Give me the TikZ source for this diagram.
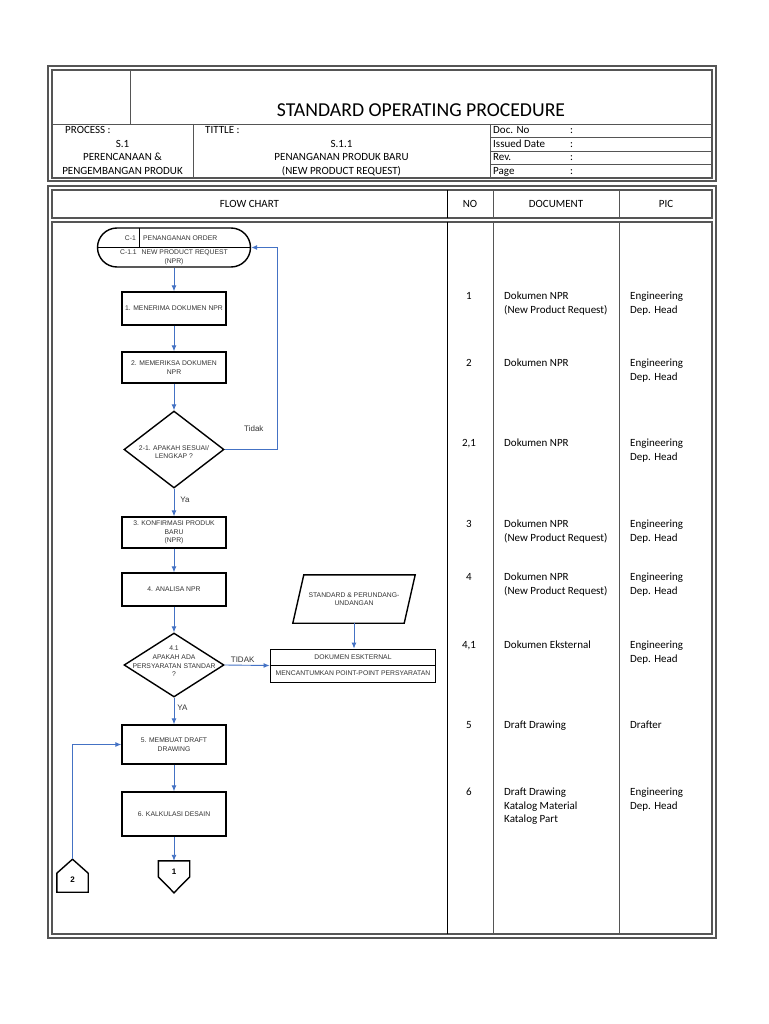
\documentclass[tikz,border=0pt]{standalone}
\usepackage{fontspec}
\setmainfont{Carlito}
\newfontfamily\flowfont{Liberation Sans}
\usetikzlibrary{arrows.meta,calc,positioning,shapes.geometric,shapes.misc}
\definecolor{flowblue}{RGB}{68,114,196}
\definecolor{framegray}{RGB}{85,85,85}

\begin{document}
\begin{tikzpicture}[x=1pt, y=-1pt, >={Latex[length=6pt,width=5pt]},
    frame/.style={draw=framegray, line width=1.1pt},
    cell/.style={draw=framegray, line width=0.7pt},
    formtext/.style={font=\fontsize{11}{13.3}\selectfont, inner sep=0pt, text height=8pt, text depth=1pt},
    coltext/.style={font=\fontsize{11}{13.3}\selectfont, inner sep=0pt, align=left, anchor=north west},
    flowtext/.style={inner sep=0pt, align=center, font=\flowfont\fontsize{6.8}{8.6}\selectfont, text=black!80},
    stepbox/.style={flowtext, draw, text=black!80, line width=1.4pt, minimum width=104pt, inner sep=1pt},
    decision/.style={diamond, draw, line width=1.4pt, minimum width=100pt, inner sep=0pt},
    answer/.style={inner sep=0pt, font=\flowfont\fontsize{8}{9}\selectfont, text=black!80},
    connector/.style={inner sep=0pt, minimum width=31pt, font=\flowfont\bfseries\fontsize{8}{9}\selectfont},
    flow/.style={->, draw=flowblue, line width=0.9pt}]

    \fill[white] (0,0) rectangle (768,1024);
    \useasboundingbox (0,0) rectangle (768,1024);

    % header block
    \draw[frame] (48,66) rectangle (716,181);
    \draw[frame] (52,70) rectangle (712,178);
    \draw[cell]  (130,70) -- (130,124);
    \draw[cell]  (52,124) -- (712,124);
    \draw[cell]  (193,124) -- (193,178);
    \draw[cell]  (490,124) -- (490,178);
    \draw[cell]  (490,137) -- (712,137)  (490,151) -- (712,151)  (490,164) -- (712,164);

    \node[font=\fontsize{19.7}{24}\selectfont, inner sep=0pt] (title) at (421,110) {STANDARD OPERATING PROCEDURE};

    \node[formtext, anchor=west] (process)   at (65,130.5)  {PROCESS :};
    \node[formtext]              (procno)    at (122.5,144) {S.1};
    \node[formtext]              (procname)  at (122.5,157.5) {PERENCANAAN \&};
    \node[formtext]              (procname2) at (122.5,171) {PENGEMBANGAN PRODUK};
    \node[formtext, anchor=west] (tittle)    at (205,130.5) {TITTLE :};
    \node[formtext]              (sopno)     at (341.5,144) {S.1.1};
    \node[formtext]              (sopname)   at (341.5,157.5) {PENANGANAN PRODUK BARU};
    \node[formtext]              (sopname2)  at (341.5,171) {(NEW PRODUCT REQUEST)};
    \node[formtext, anchor=west] (docno)     at (493,130.5) {Doc. No};
    \node[formtext, anchor=west] (issued)    at (493,144)   {Issued Date};
    \node[formtext, anchor=west] (rev)       at (493,157.5) {Rev.};
    \node[formtext, anchor=west] (page)      at (493,171)   {Page};
    \node[formtext, anchor=west] (docnoval)  at (570,130.5) {:};
    \node[formtext, anchor=west] (issuedval) at (570,144)   {:};
    \node[formtext, anchor=west] (revval)    at (570,157.5) {:};
    \node[formtext, anchor=west] (pageval)   at (570,171)   {:};

    % table block
    \draw[frame] (48,186) rectangle (716,938);
    \draw[frame] (52,190) rectangle (712,218);
    \draw[frame] (52,222) rectangle (712,934);
    \draw[line width=0.8pt] (447,190) -- (447,218)  (447,222) -- (447,934);
    \draw[cell] (493,190) -- (493,218)  (493,222) -- (493,934);
    \draw[cell] (619,190) -- (619,218)  (619,222) -- (619,934);

    \node[formtext] (hflow) at (249.5,204) {FLOW CHART};
    \node[formtext] (hno)   at (470,204)   {NO};
    \node[formtext] (hdoc)  at (556,204)   {DOCUMENT};
    \node[formtext] (hpic)  at (666,204)   {PIC};

    % table rows
    \node[coltext, anchor=north] (no1)  at (469,292) {1};
    \node[coltext] (doc1)  at (504,292) {Dokumen NPR\\(New Product Request)};
    \node[coltext] (pic1)  at (630,292) {Engineering\\Dep. Head};
    \node[coltext, anchor=north] (no2)  at (469,359) {2};
    \node[coltext] (doc2)  at (504,359) {Dokumen NPR};
    \node[coltext] (pic2)  at (630,359) {Engineering\\Dep. Head};
    \node[coltext, anchor=north] (no21) at (469,439) {2,1};
    \node[coltext] (doc21) at (504,439) {Dokumen NPR};
    \node[coltext] (pic21) at (630,439) {Engineering\\Dep. Head};
    \node[coltext, anchor=north] (no3)  at (469,520) {3};
    \node[coltext] (doc3)  at (504,520) {Dokumen NPR\\(New Product Request)};
    \node[coltext] (pic3)  at (630,520) {Engineering\\Dep. Head};
    \node[coltext, anchor=north] (no4)  at (469,573) {4};
    \node[coltext] (doc4)  at (504,573) {Dokumen NPR\\(New Product Request)};
    \node[coltext] (pic4)  at (630,573) {Engineering\\Dep. Head};
    \node[coltext, anchor=north] (no41) at (469,641) {4,1};
    \node[coltext] (doc41) at (504,641) {Dokumen Eksternal};
    \node[coltext] (pic41) at (630,641) {Engineering\\Dep. Head};
    \node[coltext, anchor=north] (no5)  at (469,721) {5};
    \node[coltext] (doc5)  at (504,721) {Draft Drawing};
    \node[coltext] (pic5)  at (630,721) {Drafter};
    \node[coltext, anchor=north] (no6)  at (469,788) {6};
    \node[coltext] (doc6)  at (504,788) {Draft Drawing\\Katalog Material\\Katalog Part};
    \node[coltext] (pic6)  at (630,788) {Engineering\\Dep. Head};

    % flow chart
    \node[rounded rectangle, draw, line width=1.4pt, minimum width=153pt, minimum height=39pt, inner sep=0pt] (order) at (174,247.5) {};
    \draw[line width=1pt] (order.west) -- (order.east);
    \coordinate (orderdiv) at (139,228);
    \draw[line width=1pt] (orderdiv) -- (orderdiv |- order.center);
    \node[flowtext, anchor=east] (ordercode) at (136,238)   {C-1};
    \node[flowtext, anchor=west] (ordername) at (143,238)   {PENANGANAN ORDER};
    \node[flowtext]              (nprname)   at (174,257.5) {C-1.1\hspace{5pt}NEW PRODUCT REQUEST\\(NPR)};

    \node[stepbox, minimum height=33pt] (receive) at (174,308.5) {1. MENERIMA DOKUMEN NPR};
    \node[stepbox, minimum height=31pt] (check)   at (174,367.5) {2. MEMERIKSA DOKUMEN\\NPR};
    \node[decision, minimum height=77pt] (complete) at (174,449.5) {};
    \node[flowtext] (completetext) at (174,452) {2-1. APAKAH SESUAI/\\LENGKAP ?};
    \node[stepbox, minimum height=31pt] (confirm) at (174,532.5) {3. KONFIRMASI PRODUK\\BARU\\(NPR)};
    \node[stepbox, minimum height=33pt] (analyse) at (174,589.5) {4. ANALISA NPR};
    \node[decision, minimum height=64pt] (standard) at (174,665) {};
    \node[flowtext] (standardtext) at (174,661.5) {4.1\\APAKAH ADA\\PERSYARATAN STANDAR\\?};
    \node[stepbox, minimum height=39pt] (draft)   at (174,744.5) {5. MEMBUAT DRAFT\\DRAWING};
    \node[stepbox, minimum height=44pt] (calc)    at (174,814)   {6. KALKULASI DESAIN};

    \node[flowtext, minimum width=111pt, minimum height=48pt] (law) at (354,599) {STANDARD \& PERUNDANG-\\UNDANGAN};
    \draw[line width=1.4pt] ($(law.south west)+(-5.5,0)$) -- ($(law.south east)+(-5.5,0)$)
        -- ($(law.north east)+(5.5,0)$) -- ($(law.north west)+(5.5,0)$) -- cycle;
    \node[draw, line width=0.9pt, minimum width=165pt, minimum height=33pt, inner sep=0pt] (extdoc) at (352.5,665.5) {};
    \draw[line width=0.9pt] (extdoc.west) -- (extdoc.east);
    \node[flowtext] (extname) at (353,657.5) {DOKUMEN ESKTERNAL};
    \node[flowtext] (extnote) at (353,673.5) {MENCANTUMKAN POINT-POINT PERSYARATAN};

    % off-page connectors
    \node[connector, minimum height=22pt] (next) at (174,872) {1};
    \draw[line width=1.4pt] (next.north west) -- (next.north east) -- ($(next.north east)+(0,16)$)
        -- ($(next.north)+(0,32)$) -- ($(next.north west)+(0,16)$) -- cycle;
    \node[connector, minimum height=24pt] (back) at (72.5,880) {2};
    \coordinate (backtip) at ($(back.south)+(0,-33)$);
    \draw[line width=1.4pt] (back.south west) -- (back.south east) -- ($(back.south east)+(0,-19)$)
        -- (backtip) -- ($(back.south west)+(0,-19)$) -- cycle;

    \path (order.south)    edge[flow] (receive.north)
          (receive.south)  edge[flow] (check.north)
          (check.south)    edge[flow] (complete.north)
          (complete.south) edge[flow] node[answer, pos=0.4, anchor=west, xshift=6pt] {Ya} (confirm.north)
          (confirm.south)  edge[flow] (analyse.north)
          (analyse.south)  edge[flow] (standard.north)
          (standard.south) edge[flow] node[answer, pos=0.39, anchor=west, xshift=3pt] {YA} (draft.north)
          (standard.east)  edge[flow] node[answer, pos=0.4, above=2pt] {TIDAK} (extdoc.west)
          (law.south)      edge[flow] (law.south |- extdoc.north)
          (draft.south)    edge[flow] (calc.north)
          (calc.south)     edge[flow] (next.north);
    \draw[flow] (complete.east) -- node[answer, pos=0.55, above=17pt] {Tidak} ++(53,0) |- (order.east);
    \draw[flow] (backtip) |- (draft.west);
\end{tikzpicture}
\end{document}
